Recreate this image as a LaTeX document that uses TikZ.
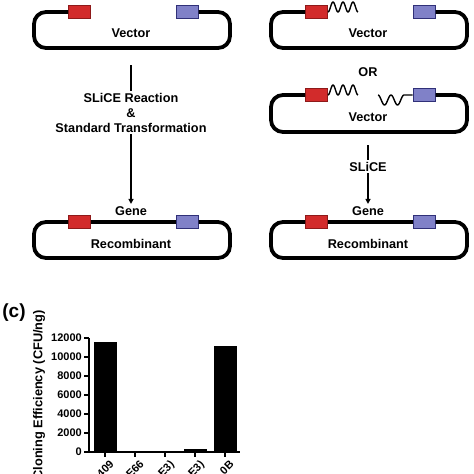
\documentclass[tikz,border=0pt]{standalone}
\usepackage{fontspec}
\setmainfont{Liberation Sans}
\usetikzlibrary{arrows.meta,positioning}
\definecolor{segred}{HTML}{D22B2B}
\definecolor{segredline}{HTML}{8E1A1A}
\definecolor{segblue}{HTML}{8081C8}
\definecolor{segblueline}{HTML}{303078}

\begin{document}
\begin{tikzpicture}[
  x=1pt, y=-1pt,
  font=\fontsize{12.7}{15}\selectfont\bfseries,
  lbl/.style={inner sep=2pt, anchor=base},
  redseg/.style={draw=segredline, fill=segred, line width=1pt, minimum width=22pt,
               minimum height=13pt, inner sep=0pt},
  blueseg/.style={draw=segblueline, fill=segblue, line width=1pt, minimum width=22pt,
               minimum height=13pt, inner sep=0pt},
  dna/.style={line width=3.8pt, rounded corners=12pt},
  wig/.style={line width=1.4pt, line join=round},
  stem/.style={line width=1.3pt},
  arr/.style={-{Triangle[width=5pt,length=5pt]}, line width=1.3pt},
  bar/.style={fill=black},
  axis/.style={line width=1.5pt},
  ticklbl/.style={font=\fontsize{11}{13}\selectfont\bfseries, inner sep=1pt}
]
\useasboundingbox (0,0) rectangle (474,474);
\clip (0,0) rectangle (474,474);

% left: vector -> recombinant
\node[redseg] (r1) at (79.5,12) {};
\node[blueseg] (b1) at (187,12) {};
\draw[dna] (r1.west) -| (34,48) -| (230,12) -- (b1.east);
\node[lbl] (v1) at (131,37) {Vector};
\node[lbl] (rxn1) at (131,102) {SLiCE Reaction};
\node[lbl] (rxn2) at (131,117) {\&};
\node[lbl] (rxn3) at (131,132) {Standard Transformation};
\node[lbl] (g1) at (131,215) {Gene};
\node[redseg] (r4) at (79.5,222) {};
\node[blueseg] (b4) at (187,222) {};
\draw[dna] (r4.east) -- (b4.west);
\draw[dna] (r4.west) -| (34,258) -| (230,222) -- (b4.east);
\node[lbl] (rc1) at (131,248) {Recombinant};
\draw[stem, shorten <=26pt] (v1.south) -- (rxn1.north);
\draw[arr] (rxn3.south) -- (g1.north);

% right: vector with overhangs -> recombinant
\node[redseg] (r2) at (316.5,12) {};
\node[blueseg] (b2) at (424,12) {};
\draw[dna] (r2.west) -| (271,48) -| (467,12) -- (b2.east);
\draw[wig] (r2.east) -- plot[domain=0:1, samples=60, smooth]
  ({328+30*\x}, {12-5*(1-cos(1080*\x))});
\node[lbl] (v2) at (368,37) {Vector};
\node[lbl] (or) at (368,76) {OR};
\node[redseg] (r3) at (316.5,95) {};
\node[blueseg] (b3) at (424,95) {};
\draw[dna] (r3.west) -| (271,132) -| (467,95) -- (b3.east);
\draw[wig] (r3.east) -- plot[domain=0:1, samples=60, smooth]
  ({328+30*\x}, {95-5*(1-cos(1080*\x))});
\draw[wig] plot[domain=0:1, samples=50, smooth]
  ({378+26*\x}, {95+5*(1-cos(720*\x))}) -- (b3.west);
\node[lbl] (v3) at (368,121) {Vector};
\node[lbl] (sl) at (368,171) {SLiCE};
\node[lbl] (g2) at (368,215) {Gene};
\node[redseg] (r5) at (316.5,222) {};
\node[blueseg] (b5) at (424,222) {};
\draw[dna] (r5.east) -- (b5.west);
\draw[dna] (r5.west) -| (271,258) -| (467,222) -- (b5.east);
\node[lbl] (rc2) at (368,248) {Recombinant};
\draw[stem, shorten <=22pt] (v3.south) -- (sl.north);
\draw[arr] (sl.south) -- (g2.north);

% (c) cloning efficiency
\node[font=\fontsize{19}{22}\selectfont\bfseries, inner sep=0pt] (pc) at (14,313) {(c)};
\node[rotate=90, anchor=east, inner sep=0pt, font=\fontsize{12.8}{15}\selectfont\bfseries]
  (ylab) at (39,310) {Cloning Efficiency (CFU/ng)};
\foreach \v/\x/\lab in {11600/105/409, 0/135/E66, 150/165/E3), 300/195/E3), 11200/225/0B} {
  \fill[bar] (\x-11.5,452) rectangle (\x+11.5,{452-0.0095*\v});
  \draw[axis] (\x,452) -- (\x,457);
  \node[ticklbl, rotate=45, anchor=north east] at (\x+4,458) {\lab};
}
\draw[axis] (89,338) -- (89,452) -- (240,452);
\foreach \v in {0,2000,...,12000} {
  \draw[axis] (84,{452-0.0095*\v}) -- (89,{452-0.0095*\v});
  \node[ticklbl, anchor=east] at (83,{452-0.0095*\v}) {\v};
}
\end{tikzpicture}
\end{document}
